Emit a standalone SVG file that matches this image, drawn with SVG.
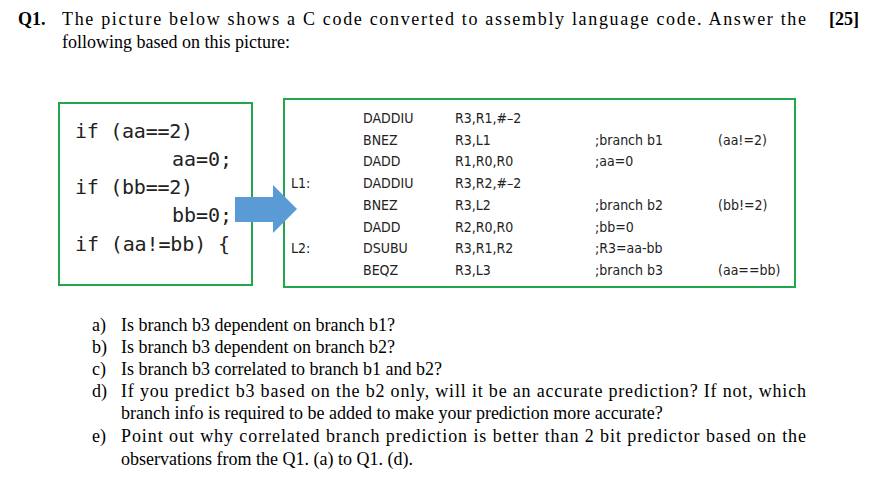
<svg xmlns="http://www.w3.org/2000/svg" width="872" height="489" viewBox="0 0 872 489">
<style>
.t{font-family:"Liberation Serif",serif;font-size:18px;fill:#000}
.b{font-weight:bold}
.c{font-family:"DejaVu Sans Mono",monospace;font-size:20px;fill:#222}
.a{font-family:"DejaVu Sans Condensed","DejaVu Sans",sans-serif;font-size:14px;fill:#222}
.box{fill:#fff;stroke:#22a84a;stroke-width:2}
</style>
<rect width="872" height="489" fill="#fff"/>
<g id="header">
<text class="t b" x="18" y="25">Q1.</text>
<text class="t" x="62" y="25" textLength="744">The picture below shows a C code converted to assembly language code. Answer the</text>
<text class="t b" x="829" y="25">[25]</text>
<text class="t" x="62" y="48">following based on this picture:</text>
</g>
<g id="ccode">
<rect class="box" x="59" y="103" width="193" height="182"/>
<text class="c" x="75" y="138" textLength="118">if (aa==2)</text>
<text class="c" x="172" y="166" textLength="60">aa=0;</text>
<text class="c" x="75" y="194" textLength="118">if (bb==2)</text>
<text class="c" x="172" y="222" textLength="60">bb=0;</text>
<text class="c" x="75" y="251" textLength="155">if (aa!=bb) {</text>
</g>
<g id="asm">
<rect class="box" x="284" y="99" width="511" height="188"/>
<g class="a">
<text x="363" y="123">DADDIU</text><text x="455" y="123">R3,R1,#–2</text>
<text x="363" y="145">BNEZ</text><text x="455" y="145">R3,L1</text><text x="595" y="145">;branch b1</text><text x="718" y="145">(aa!=2)</text>
<text x="363" y="166">DADD</text><text x="455" y="166">R1,R0,R0</text><text x="595" y="166">;aa=0</text>
<text x="291" y="188">L1:</text><text x="363" y="188">DADDIU</text><text x="455" y="188">R3,R2,#–2</text>
<text x="363" y="210">BNEZ</text><text x="455" y="210">R3,L2</text><text x="595" y="210">;branch b2</text><text x="718" y="210">(bb!=2)</text>
<text x="363" y="232">DADD</text><text x="455" y="232">R2,R0,R0</text><text x="595" y="232">;bb=0</text>
<text x="291" y="253">L2:</text><text x="363" y="253">DSUBU</text><text x="455" y="253">R3,R1,R2</text><text x="595" y="253">;R3=aa-bb</text>
<text x="363" y="275">BEQZ</text><text x="455" y="275">R3,L3</text><text x="595" y="275">;branch b3</text><text x="718" y="275">(aa==bb)</text>
</g>
</g>
<g id="connectors">
<path d="M235,197 H273 V185 L297,209 L273,233 V222 H235 Z" fill="#5b9bd5"/>
</g>
<g id="questions" class="t">
<text x="92" y="331">a)</text><text x="121" y="331">Is branch b3 dependent on branch b1?</text>
<text x="92" y="353">b)</text><text x="121" y="353">Is branch b3 dependent on branch b2?</text>
<text x="92" y="375">c)</text><text x="121" y="375">Is branch b3 correlated to branch b1 and b2?</text>
<text x="92" y="397">d)</text><text x="121" y="397" textLength="685">If you predict b3 based on the b2 only, will it be an accurate prediction? If not, which</text>
<text x="121" y="419">branch info is required to be added to make your prediction more accurate?</text>
<text x="92" y="442">e)</text><text x="121" y="442" textLength="685">Point out why correlated branch prediction is better than 2 bit predictor based on the</text>
<text x="121" y="465">observations from the Q1. (a) to Q1. (d).</text>
</g>
</svg>
